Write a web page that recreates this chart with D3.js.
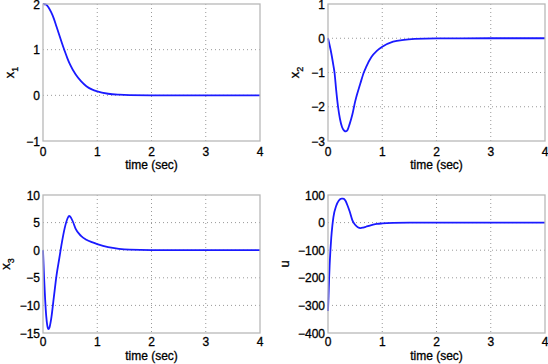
<!DOCTYPE html>
<html>
<head>
<meta charset="utf-8">
<script src="https://cdn.jsdelivr.net/npm/d3@7"></script>
<style>
  body { margin: 0; background: #fff; }
  svg { display: block; }
  text { font-family: "Liberation Sans", Arial, Helvetica, sans-serif; fill: #000; stroke: #000; stroke-width: 0.3; }
</style>
</head>
<body>
<svg id="chart" width="548" height="364"></svg>
<script>
// time samples for each state / input
const tX1 = [0, 0.05, 0.1, 0.15, 0.2, 0.25, 0.3, 0.35, 0.4, 0.45, 0.5, 0.6, 0.7, 0.8, 0.9, 1.0, 1.2, 1.4, 1.6, 2, 3, 4];
const x1 = [2, 1.99, 1.93, 1.82, 1.68, 1.5, 1.32, 1.14, 0.97, 0.81, 0.67, 0.46, 0.31, 0.2, 0.13, 0.085, 0.035, 0.014, 0.005, 0.001, 0, 0];

const tX2 = [0, 0.05, 0.1, 0.12, 0.15, 0.185, 0.22, 0.26, 0.3, 0.33, 0.36, 0.4, 0.45, 0.5, 0.6, 0.66, 0.7, 0.8, 0.9, 1.0, 1.2, 1.4, 1.6, 2, 3, 4];
const x2 = [0, -0.35, -0.8, -1.0, -1.5, -2.0, -2.35, -2.6, -2.7, -2.72, -2.68, -2.5, -2.22, -1.85, -1.3, -1.0, -0.85, -0.55, -0.37, -0.25, -0.1, -0.045, -0.02, -0.003, 0, 0];

const tX3 = [0, 0.02, 0.04, 0.06, 0.08, 0.1, 0.12, 0.15, 0.2, 0.25, 0.3, 0.35, 0.4, 0.45, 0.48, 0.5, 0.55, 0.6, 0.7, 0.8, 0.9, 1.0, 1.2, 1.4, 1.6, 2, 3, 4];
const x3 = [0, -5, -9, -12, -13.7, -14.3, -14, -12.5, -8.5, -4.5, -1.5, 1.5, 4, 5.7, 6.2, 6.1, 5.2, 3.9, 2.6, 1.9, 1.45, 1.1, 0.55, 0.25, 0.1, 0.02, 0, 0];

const tU = [0, 0.01, 0.02, 0.03, 0.045, 0.06, 0.08, 0.1, 0.15, 0.2, 0.25, 0.28, 0.32, 0.36, 0.4, 0.45, 0.5, 0.55, 0.6, 0.65, 0.7, 0.8, 0.9, 1.0, 1.2, 1.5, 2, 3, 4];
const u = [-320, -265, -205, -155, -100, -55, -12, 20, 60, 80, 87, 87, 80, 62, 40, 8, -8, -17, -20, -18, -15, -9, -5, -3, -1, 0, 0, 0, 0];

const xTicks = [0, 1, 2, 3, 4];
const yTicks1 = [-1, 0, 1, 2];
const yTicks2 = [-3, -2, -1, 0, 1];
const yTicks3 = [-15, -10, -5, 0, 5, 10];
const yTicks4 = [-400, -300, -200, -100, 0, 100];

const svg = d3.select("#chart");
const fmt = (d) => (d < 0 ? "\u2212" + Math.abs(d) : String(d));

function drawPanel(box, ts, vals, yTicks, label, sub) {
  const g = svg.append("g");
  const xScale = d3.scaleLinear().domain([0, 4]).range([box.left, box.right]);
  const yScale = d3.scaleLinear()
    .domain([yTicks[0], yTicks[yTicks.length - 1]])
    .range([box.bottom, box.top]);

  // dotted grid
  g.selectAll(".gx").data(xTicks.slice(1, -1)).join("line")
    .attr("x1", (d) => xScale(d)).attr("x2", (d) => xScale(d))
    .attr("y1", box.top).attr("y2", box.bottom)
    .attr("stroke", "#999").attr("stroke-width", 1).attr("stroke-dasharray", "1,3");
  g.selectAll(".gy").data(yTicks.slice(1, -1)).join("line")
    .attr("y1", (d) => yScale(d)).attr("y2", (d) => yScale(d))
    .attr("x1", box.left).attr("x2", box.right)
    .attr("stroke", "#999").attr("stroke-width", 1).attr("stroke-dasharray", "1,3");

  // curve
  const pts = ts.map((t, i) => ({ t: t, v: vals[i] }));
  const valueLine = d3.line()
    .x((d) => xScale(d.t))
    .y((d) => yScale(d.v))
    .curve(d3.curveMonotoneX);
  g.append("path").datum(pts)
    .attr("d", valueLine)
    .attr("fill", "none")
    .attr("stroke", "#1a1aff")
    .attr("stroke-width", 1.8);

  // box
  g.append("rect")
    .attr("x", box.left).attr("y", box.top)
    .attr("width", box.right - box.left).attr("height", box.bottom - box.top)
    .attr("fill", "none").attr("stroke", "#b8b8b8").attr("stroke-width", 1.3);

  // tick labels
  g.selectAll(".tx").data(xTicks).join("text")
    .attr("x", (d) => xScale(d)).attr("y", box.bottom + box.tickDy)
    .attr("text-anchor", "middle").attr("font-size", 12)
    .text(fmt);
  g.selectAll(".ty").data(yTicks).join("text")
    .attr("x", box.left - 3).attr("y", (d) => yScale(d) + 4.5)
    .attr("text-anchor", "end").attr("font-size", 12)
    .text(fmt);

  g.append("text")
    .attr("x", (box.left + box.right) / 2).attr("y", box.bottom + box.labelDy)
    .attr("text-anchor", "middle").attr("font-size", 12)
    .text("time (sec)");

  const yl = g.append("text")
    .attr("transform", `translate(${box.labelX}, ${(box.top + box.bottom) / 2}) rotate(-90)`)
    .attr("text-anchor", "middle").attr("font-size", 13);
  yl.append("tspan").text(label);
  if (sub) yl.append("tspan").attr("font-size", 9).attr("dy", 4).text(sub);
}

drawPanel({ left: 43, right: 260, top: 4, bottom: 141, labelX: 14, tickDy: 15, labelDy: 28 }, tX1, x1, yTicks1, "x", "1");
drawPanel({ left: 328, right: 545, top: 4, bottom: 141, labelX: 299, tickDy: 15, labelDy: 28 }, tX2, x2, yTicks2, "x", "2");
drawPanel({ left: 43, right: 260, top: 195, bottom: 333, labelX: 10, tickDy: 13, labelDy: 27 }, tX3, x3, yTicks3, "x", "3");
drawPanel({ left: 328, right: 545, top: 195, bottom: 333, labelX: 289, tickDy: 13, labelDy: 27 }, tU, u, yTicks4, "u", null);
</script>
</body>
</html>
